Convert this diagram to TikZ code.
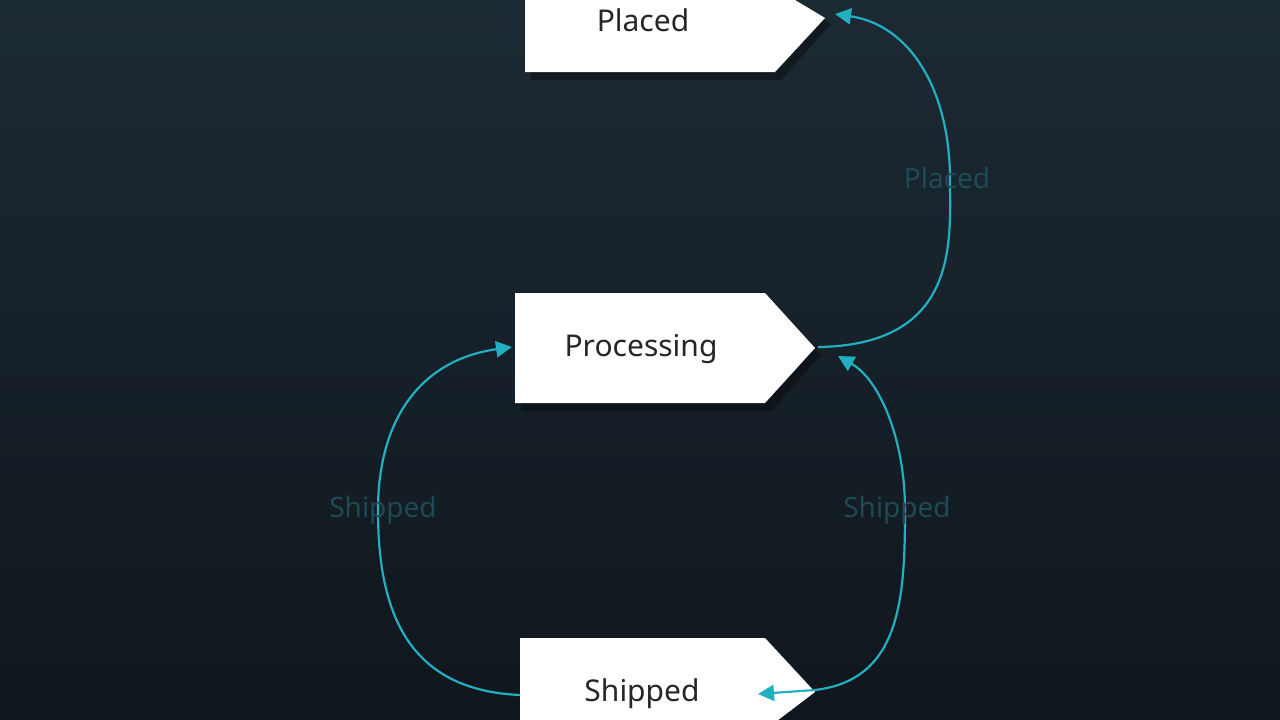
\documentclass[tikz,border=0pt]{standalone}
\usepackage{fontspec}
\setmainfont{Noto Sans}
\usetikzlibrary{arrows.meta}
\definecolor{bgA}{HTML}{1C2A33}
\definecolor{bgB}{HTML}{10161D}
\definecolor{edge}{HTML}{22AFC0}
\definecolor{lbl}{HTML}{1E4A55}
\tikzset{
 tag/.style={fill=white,draw=none},
 shadowed/.style={fill=black,opacity=0.35},
 conn/.style={draw=edge,line width=2.2pt,-{Triangle[length=16pt,width=16pt]}},
 elab/.style={text=lbl,font=\fontsize{28}{30}\selectfont,fill=none},
 ntext/.style={text=black!85,font=\fontsize{30}{32}\selectfont}
}
\begin{document}
\begin{tikzpicture}[x=1pt,y=-1pt]
\shade[top color=bgA,bottom color=bgB] (0,0) rectangle (1280,720);
\useasboundingbox (0,0) rectangle (1280,720);
% shadows
\fill[shadowed] (531,-6) -- (781,-6) -- (831,24) -- (781,80) -- (531,80) -- cycle;
\fill[shadowed] (521,299) -- (771,299) -- (821,355) -- (771,411) -- (521,411) -- cycle;
% boxes
\fill[tag] (525,-12) -- (775,-12) -- (825,18) -- (775,72) -- (525,72) -- cycle;
\fill[tag] (515,293) -- (765,293) -- (815,348) -- (765,403) -- (515,403) -- cycle;
\fill[tag] (520,638) -- (765,638) -- (815,692) -- (765,730) -- (520,730) -- cycle;
\node[ntext] (placed) at (643,20) {Placed};
\node[ntext] (proc) at (641,349) {Processing};
\node[ntext] (ship) at (642,694) {Shipped};
\coordinate (pA) at (835,14);
\coordinate (prR) at (818,347);
\coordinate (prR2) at (838,356);
\coordinate (prL) at (512,347);
\coordinate (shL) at (520,695);
\coordinate (shR) at (815,690);
\coordinate (shIn) at (758,694);
\draw[conn] (prR) .. controls (960,345) and (950,240) .. (950,180) .. controls (950,90) and (910,25) .. (pA);
\draw[conn] (shL) .. controls (400,690) and (378,600) .. (378,510) .. controls (378,420) and (420,360) .. (prL);
\draw[conn] (shR) .. controls (900,680) and (905,600) .. (905,510) .. controls (905,440) and (880,380) .. (prR2);
\draw[conn] (shR) -- (shIn);
\node[elab] at (947,178) {Placed};
\node[elab] at (383,510) {Shipped};
\node[elab] at (897,510) {Shipped};
\end{tikzpicture}
\end{document}
